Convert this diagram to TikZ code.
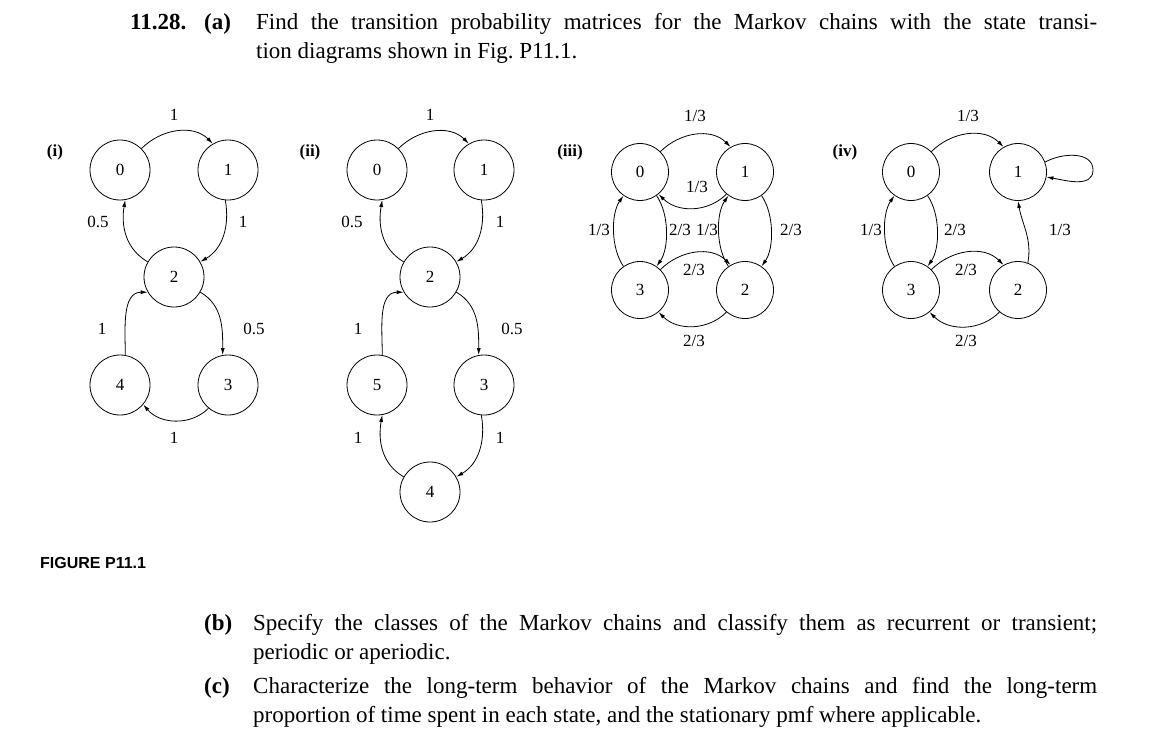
\documentclass[tikz,border=0pt]{standalone}
\usepackage{fontspec}
\setmainfont{Liberation Serif}
\newfontfamily\figfont{Liberation Sans}
\usetikzlibrary{arrows.meta,calc}
\begin{document}
\begin{tikzpicture}[x=1pt,y=-1pt,
  st/.style={draw,circle,minimum size=60pt,inner sep=0pt,font=\fontsize{17}{17}\selectfont,line width=0.8pt},
  sst/.style={st,minimum size=57pt},
  ed/.style={-{Latex[length=7pt,width=4pt]},line width=0.8pt},
  lb/.style={font=\fontsize{17}{17}\selectfont,inner sep=0pt},
  tx/.style={anchor=base west,inner sep=0pt,font=\fontsize{23}{23}\selectfont},
  bx/.style={tx,font=\fontsize{23}{23}\selectfont\bfseries}]
\useasboundingbox (0,0) rectangle (1162,734);
% header
\node[bx] (h1) at (130,29) {11.28.};
\node[bx] (h2) at (204,29) {(a)};
\node[tx] (t1) at (256,29) {\makebox[841pt][s]{Find the transition probability matrices for the Markov chains with the state transi-}};
\node[tx] (t2) at (256,58) {tion diagrams shown in Fig.\ P11.1.};
% (i)
\node[lb,font=\fontsize{17}{17}\selectfont\bfseries] (li) at (55,152) {(i)};
\node[st] (a0) at (120,170) {0};
\node[st] (a1) at (228,170) {1};
\node[st] (a2) at (174,277) {2};
\node[st] (a4) at (120,385) {4};
\node[st] (a3) at (228,385) {3};
\draw[ed] (a0.45) to[out=45,in=135] (a1.120);
\draw[ed] (a1.-95) to[out=-80,in=30] (a2.30);
\draw[ed] (a2.150) to[out=150,in=-100] (a0.-80);
\draw[ed] (a2.-30) to[out=-30,in=90] (a3.100);
\draw[ed] (a4.80) to[out=90,in=180] (a2.-150);
\draw[ed] (a3.-130) to[out=-135,in=-50] (a4.-40);
\node[lb] at (174,115) {1};
\node[lb] at (243,222) {1};
\node[lb] at (98,222) {0.5};
\node[lb] at (254,329) {0.5};
\node[lb] at (102,329) {1};
\node[lb] at (174,438) {1};
% (ii)
\node[lb,font=\fontsize{17}{17}\selectfont\bfseries] (lii) at (310,152) {(ii)};
\node[st] (b0) at (377,170) {0};
\node[st] (b1) at (484,170) {1};
\node[st] (b2) at (430,277) {2};
\node[st] (b5) at (377,385) {5};
\node[st] (b3) at (484,385) {3};
\node[st] (b4) at (430,492) {4};
\draw[ed] (b0.45) to[out=45,in=135] (b1.120);
\draw[ed] (b1.-95) to[out=-80,in=30] (b2.30);
\draw[ed] (b2.150) to[out=150,in=-100] (b0.-80);
\draw[ed] (b2.-30) to[out=-30,in=90] (b3.100);
\draw[ed] (b5.80) to[out=90,in=180] (b2.-150);
\draw[ed] (b3.-95) to[out=-80,in=30] (b4.30);
\draw[ed] (b4.150) to[out=150,in=-100] (b5.-80);
\node[lb] at (430,115) {1};
\node[lb] at (500,222) {1};
\node[lb] at (352,222) {0.5};
\node[lb] at (512,329) {0.5};
\node[lb] at (358,329) {1};
\node[lb] at (358,438) {1};
\node[lb] at (500,438) {1};
% (iii)
\node[lb,font=\fontsize{17}{17}\selectfont\bfseries] (liii) at (570,152) {(iii)};
\node[sst] (c0) at (640,172) {0};
\node[sst] (c1) at (745,172) {1};
\node[sst] (c3) at (640,290) {3};
\node[sst] (c2) at (745,290) {2};
\draw[ed] (c0.45) to[out=45,in=135] (c1.120);
\draw[ed] (c1.-130) to[out=-135,in=-45] (c0.-50);
\draw[ed] (c0.-55) to[out=-55,in=55,looseness=0.8] (c3.55);
\draw[ed] (c3.125) to[out=125,in=-125,looseness=0.8] (c0.-125);
\draw[ed] (c1.-55) to[out=-55,in=55,looseness=0.8] (c2.55);
\draw[ed] (c2.125) to[out=125,in=-125,looseness=0.8] (c1.-125);
\draw[ed] (c3.45) to[out=45,in=135] (c2.120);
\draw[ed] (c2.-130) to[out=-135,in=-45] (c3.-50);
\node[lb] at (695,116) {1/3};
\node[lb] at (697,187) {1/3};
\node[lb] at (599,230) {1/3};
\node[lb] at (680,230) {2/3};
\node[lb] at (707,230) {1/3};
\node[lb] at (791,230) {2/3};
\node[lb] at (694,270) {2/3};
\node[lb] at (694,341) {2/3};
% (iv)
\node[lb,font=\fontsize{17}{17}\selectfont\bfseries] (liv) at (845,152) {(iv)};
\node[sst] (d0) at (911,172) {0};
\node[sst] (d1) at (1018,172) {1};
\node[sst] (d3) at (911,290) {3};
\node[sst] (d2) at (1018,290) {2};
\coordinate (loopend) at (1093,170);
\draw[ed] (d1.20) to[out=30,in=90] (loopend) to[out=-90,in=-10] (d1.-10);
\draw[ed] (d0.-55) to[out=-55,in=55,looseness=0.8] (d3.55);
\draw[ed] (d3.125) to[out=125,in=-125,looseness=0.8] (d0.-125);
\draw[ed] (d2.70) to[out=80,in=-80] (d1.-90);
\draw[ed] (d3.45) to[out=45,in=135] (d2.120);
\draw[ed] (d2.-130) to[out=-135,in=-45] (d3.-50);
\draw[ed] (d0.45) to[out=45,in=135] (d1.120);
\node[lb] at (871,230) {1/3};
\node[lb] at (955,230) {2/3};
\node[lb] at (1060,230) {1/3};
\node[lb] at (968,116) {1/3};
\node[lb] at (966,270) {2/3};
\node[lb] at (966,341) {2/3};
% caption
\node[anchor=base west,inner sep=0pt,font=\figfont\fontsize{16}{16}\selectfont\bfseries] (cap) at (40,568) {FIGURE P11.1};
% (b),(c)
\node[bx] (bb) at (204,630) {(b)};
\node[tx] (b1t) at (253,630) {\makebox[844pt][s]{Specify the classes of the Markov chains and classify them as recurrent or transient;}};
\node[tx] (b2t) at (253,659) {periodic or aperiodic.};
\node[bx] (cc) at (204,693) {(c)};
\node[tx] (c1t) at (253,693) {\makebox[844pt][s]{Characterize the long-term behavior of the Markov chains and find the long-term}};
\node[tx] (c2t) at (253,722) {proportion of time spent in each state, and the stationary pmf where applicable.};
\end{tikzpicture}
\end{document}
